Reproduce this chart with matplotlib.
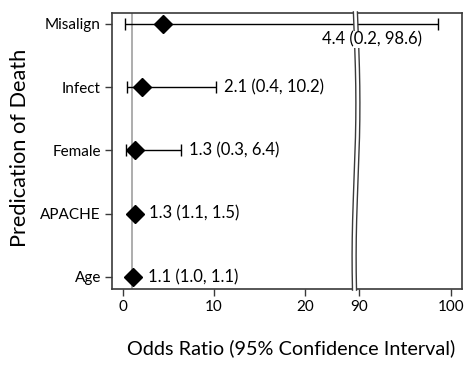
import numpy as np
import matplotlib
matplotlib.use("Agg")
import matplotlib.pyplot as plt

plt.rcParams['font.family'] = ['Lato', 'DejaVu Sans']

predictors = ['Age', 'APACHE', 'Female', 'Infect', 'Misalign']
odds = [1.1, 1.3, 1.3, 2.1, 4.4]
ci_low = [1.0, 1.1, 0.3, 0.4, 0.2]
ci_high = [1.1, 1.5, 6.4, 10.2, 98.6]
labels = ['1.1 (1.0, 1.1)', '1.3 (1.1, 1.5)', '1.3 (0.3, 6.4)',
          '2.1 (0.4, 10.2)', '4.4 (0.2, 98.6)']

SPINE = '#3a3a3a'


def main():
    fig = plt.figure(figsize=(4.74, 3.67), dpi=100)
    bottom, height = 0.2125, 0.752
    ax = fig.add_axes([0.2363, bottom, 0.5105, height])
    ax2 = fig.add_axes([0.7532, bottom, 0.2215, height])

    y = np.arange(1, len(predictors) + 1)

    for a in (ax, ax2):
        a.axvline(1, color='#a0a0a0', lw=1.2, zorder=1)
        a.errorbar(odds, y, xerr=[np.subtract(odds, ci_low), np.subtract(ci_high, odds)],
                   fmt='none', ecolor='black', elinewidth=1, capsize=4, capthick=1, zorder=2)
        a.plot(odds, y, 'D', color='black', markersize=9.5, zorder=3)
        a.set_ylim(0.81, 5.17)
        a.tick_params(axis='both', direction='out', length=5, width=1, color=SPINE,
                      labelsize=11, pad=3)
        for s in a.spines.values():
            s.set_color(SPINE)
            s.set_linewidth(1.2)

    ax.set_xlim(-1.21, 25.38)
    ax.set_xticks([0, 10, 20])
    ax.set_yticks(y)
    ax.set_yticklabels(predictors)
    ax.spines['right'].set_visible(False)

    ax2.set_xlim(89.78, 101.2)
    ax2.set_xticks([90, 100])
    ax2.set_yticks([])
    ax2.spines['left'].set_visible(False)

    # value labels
    for i in range(len(predictors) - 1):
        tx = max(ci_high[i] + 0.9, odds[i] + 1.6)
        ax.text(tx, y[i], labels[i], fontsize=12, va='center', ha='left', zorder=4)
    # the Misalign label sits across the axis break, so draw it on the figure
    fig.text(21.9, 4.75, labels[-1], fontsize=12, va='center', ha='left', zorder=6,
             transform=ax.transData,
             bbox=dict(facecolor='white', edgecolor='none', pad=0.5))

    # wavy axis break
    yy = np.linspace(bottom - 0.003, bottom + height + 0.003, 200)
    t = (yy - bottom) / height
    xs = 0.7468 + 0.004 * np.sin(2 * np.pi * (1 - t) * 0.9 - 0.3)
    fig.patches.append(plt.Polygon(np.column_stack([np.r_[xs, xs[::-1] + 0.0085],
                                                    np.r_[yy, yy[::-1]]]),
                                   closed=True, transform=fig.transFigure,
                                   facecolor='white', edgecolor='none', zorder=4))
    for dx in (0.0, 0.0085):
        fig.lines.append(plt.Line2D(xs + dx, yy, transform=fig.transFigure,
                                    color=SPINE, lw=1.0, zorder=5))

    fig.text(0.614, 0.052, 'Odds Ratio (95% Confidence Interval)', fontsize=14.3,
             ha='center', va='center')
    fig.text(0.042, 0.597, 'Predication of Death', fontsize=15.7, rotation=90,
             ha='center', va='center')

    fig.savefig('out.png', dpi=100)


if __name__ == "__main__":
    main()
